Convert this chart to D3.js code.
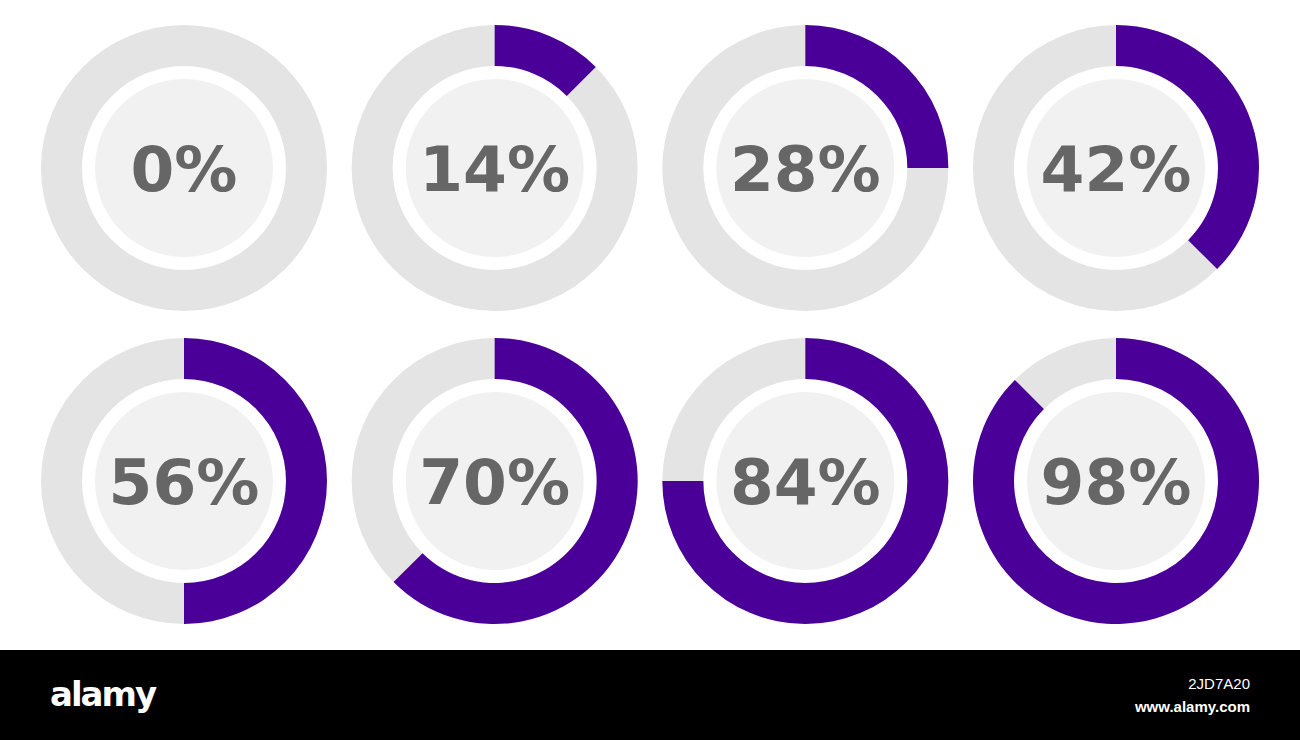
<!DOCTYPE html>
<html><head><meta charset="utf-8">
<script src="https://cdn.jsdelivr.net/npm/d3@7"></script>
<style>body{margin:0;background:#fff}</style>
</head><body><div id="container"></div>
<script>
var labels = ["0%", "14%", "28%", "42%", "56%", "70%", "84%", "98%"];
// filled share of the ring as drawn in the picture (it snaps to eighths)
var filled = [0, 12.5, 25, 37.5, 50, 62.5, 75, 87.5];

var width = 1300, height = 740;
var svg = d3.select("#container").append("svg")
    .attr("width", width).attr("height", height);

var col = d3.scalePoint().domain(d3.range(4)).range([184, 1116]);
var row = d3.scalePoint().domain(d3.range(2)).range([168, 481]);
var angle = d3.scaleLinear().domain([0, 100]).range([0, 2 * Math.PI]);

var ring = d3.arc().innerRadius(102).outerRadius(143);

var g = svg.selectAll(".donut")
    .data(filled)
    .enter().append("g")
    .attr("class", "donut")
    .attr("transform", (d, i) => "translate(" + col(i % 4) + "," + row(Math.floor(i / 4)) + ")");

g.append("path")
    .attr("d", ring({startAngle: 0, endAngle: 2 * Math.PI}))
    .attr("fill", "#e4e4e4");

g.append("path")
    .attr("d", d => ring({startAngle: 0, endAngle: angle(d)}))
    .attr("fill", "#4a0098");

g.append("circle").attr("r", 89).attr("fill", "#f1f1f1");

g.append("text")
    .attr("text-anchor", "middle")
    .attr("dy", "0.36em")
    .attr("font-family", "DejaVu Sans")
    .attr("font-weight", "bold")
    .attr("font-size", 63)
    .attr("fill", "#666")
    .text((d, i) => labels[i]);

// bottom band
svg.append("rect").attr("x", 0).attr("y", 650).attr("width", width).attr("height", 90).attr("fill", "#000");
svg.append("text").attr("x", 50).attr("y", 706).attr("fill", "#fff")
    .attr("font-family", "DejaVu Sans").attr("font-weight", "bold").attr("font-size", 34)
    .attr("letter-spacing", -2).text("alamy");
svg.append("text").attr("x", 1250).attr("y", 689).attr("text-anchor", "end").attr("fill", "#fff")
    .attr("font-family", "Liberation Sans").attr("font-size", 15).text("2JD7A20");
svg.append("text").attr("x", 1250).attr("y", 712).attr("text-anchor", "end").attr("fill", "#fff")
    .attr("font-family", "Liberation Sans").attr("font-weight", "bold").attr("font-size", 15).text("www.alamy.com");
</script></body></html>
